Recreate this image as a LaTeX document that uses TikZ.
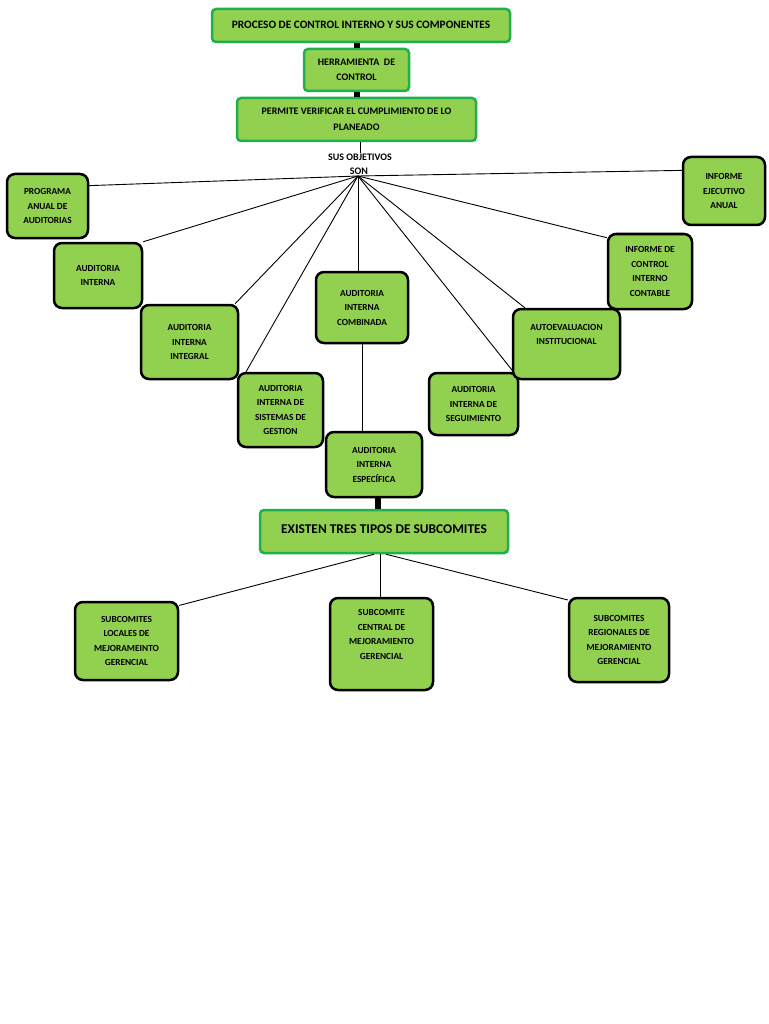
\documentclass[tikz,border=0pt]{standalone}
\usepackage{fontspec}
\setmainfont{Carlito}
\definecolor{verde}{HTML}{92D050}
\definecolor{verdeosc}{HTML}{1FB04B}
\begin{document}
\begin{tikzpicture}[x=1pt,y=-1pt,
  cajav/.style={draw=verdeosc,fill=verde,line width=2.5pt,rounded corners=4pt,align=center,inner sep=0pt,font=\bfseries\fontsize{10}{15}\selectfont},
  caja/.style={draw=black,fill=verde,line width=2.5pt,rounded corners=8pt,align=center,inner sep=0pt,font=\bfseries\fontsize{9.3}{14.5}\selectfont},
  grueso/.style={line width=6pt},
  fino/.style={line width=0.9pt}]
\useasboundingbox(0,0)rectangle(768,1024);
\node[cajav,minimum width=298,minimum height=33,font=\bfseries\fontsize{11.3}{14}\selectfont](top)at(361,25.5){\raisebox{2pt}{PROCESO DE CONTROL INTERNO Y SUS COMPONENTES}};
\node[cajav,minimum width=105,minimum height=42](herr)at(356.5,70){HERRAMIENTA\ \ DE\\CONTROL};
\node[cajav,minimum width=239,minimum height=43,font=\bfseries\fontsize{10}{16}\selectfont](perm)at(356.5,119.5){PERMITE VERIFICAR EL CUMPLIMIENTO DE LO\\PLANEADO};
\node[font=\bfseries\fontsize{10}{12}\selectfont,inner sep=0pt](sus)at(360,157){SUS OBJETIVOS};
\node[font=\bfseries\fontsize{10}{12}\selectfont,inner sep=0pt](son)at(359,171){SON};
\coordinate(hub)at(358,176);
%
\node[caja,minimum width=81,minimum height=64](prog)at(47.5,206){PROGRAMA\\ANUAL DE\\AUDITORIAS};
\node[caja,minimum width=88,minimum height=65](aint)at(98,275.5){AUDITORIA\\INTERNA};
\node[caja,minimum width=97,minimum height=74](aintg)at(189.5,342){AUDITORIA\\INTERNA\\INTEGRAL};
\node[caja,minimum width=85,minimum height=74](asis)at(280.5,410){AUDITORIA\\INTERNA DE\\SISTEMAS DE\\GESTION};
\node[caja,minimum width=92,minimum height=71](acomb)at(362,307.5){AUDITORIA\\INTERNA\\COMBINADA};
\node[caja,minimum width=96,minimum height=65](aesp)at(374,464.5){AUDITORIA\\INTERNA\\ESPECÍFICA};
\node[caja,minimum width=89,minimum height=62](aseg)at(473.5,404){AUDITORIA\\INTERNA DE\\SEGUIMIENTO};
\node[caja,minimum width=107,minimum height=70](autoe)at(566.5,344){AUTOEVALUACION\\INSTITUCIONAL\\\strut};
\node[caja,minimum width=84,minimum height=75](infc)at(650,271.5){INFORME DE\\CONTROL\\INTERNO\\CONTABLE};
\node[caja,minimum width=82,minimum height=68](infe)at(724,191){INFORME\\EJECUTIVO\\ANUAL};
%
\node[cajav,minimum width=248,minimum height=43,font=\bfseries\fontsize{13.4}{16}\selectfont](exist)at(384,531.5){\raisebox{4pt}{EXISTEN TRES TIPOS DE SUBCOMITES}};
\node[caja,minimum width=103,minimum height=78](subl)at(126.5,641){SUBCOMITES\\LOCALES DE\\MEJORAMEINTO\\GERENCIAL};
\node[caja,minimum width=103,minimum height=92](subc)at(381.5,644){SUBCOMITE\\CENTRAL DE\\MEJORAMIENTO\\GERENCIAL\\\strut};
\node[caja,minimum width=100,minimum height=84](subr)at(619,640){SUBCOMITES\\REGIONALES DE\\MEJORAMIENTO\\GERENCIAL};
%
\draw[grueso](top.south -| herr.north)--(herr.north);
\draw[grueso](herr.south)--(herr.south |- perm.north);
\draw[fino](perm.south -| sus.north)--(sus.north);
\draw[fino](hub)--(prog.26);
\draw[fino](hub)--(aint.north east);
\draw[fino](hub)--(aintg.40);
\draw[fino](hub)--(asis.132);
\draw[fino](hub)--(hub |- acomb.north);
\draw[fino](hub)--(aseg.39);
\draw[fino](hub)--(autoe.139);
\draw[fino](hub)--(infc.142);
\draw[fino](hub)--(infe.154);
\draw[fino](acomb.south)--(acomb.south |- aesp.north);
\draw[grueso]([xshift=4pt]aesp.south)--([xshift=4pt]aesp.south |- exist.north);
\draw[fino]([xshift=-10pt]exist.south)--(subl.34);
\draw[fino]([xshift=-4pt]exist.south)--([xshift=-4pt]exist.south |- subc.north);
\draw[fino]([xshift=2pt]exist.south)--(subr.142);
\end{tikzpicture}
\end{document}
